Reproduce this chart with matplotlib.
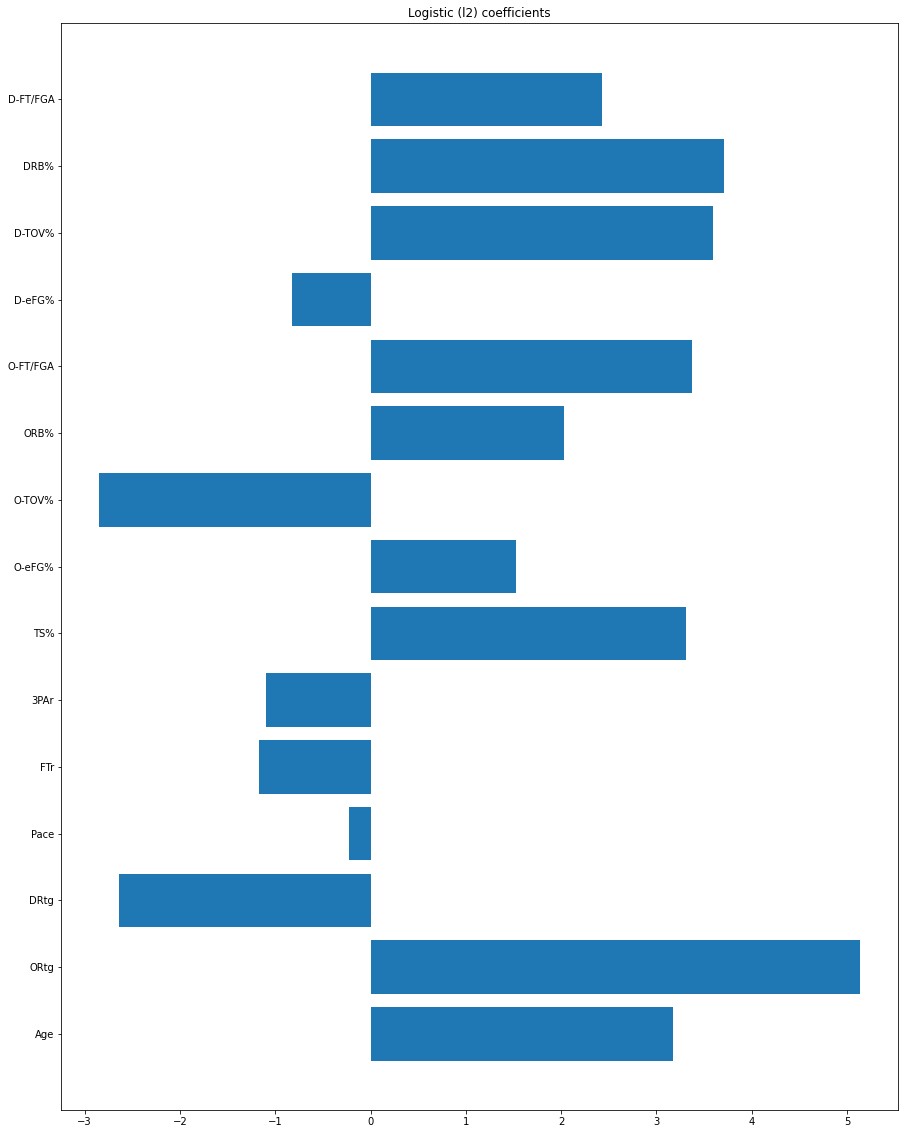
import matplotlib
matplotlib.use("Agg")
import matplotlib.pyplot as plt

features = ["Age", "ORtg", "DRtg", "Pace", "FTr", "3PAr", "TS%", "O-eFG%",
            "O-TOV%", "ORB%", "O-FT/FGA", "D-eFG%", "D-TOV%", "DRB%", "D-FT/FGA"]
coefs = [3.17, 5.14, -2.636, -0.231, -1.166, -1.092, 3.308, 1.523,
         -2.846, 2.027, 3.371, -0.82, 3.591, 3.707, 2.426]

fig = plt.figure(figsize=(905 / 72, 1134 / 72), dpi=72)
ax = fig.add_axes([61.3 / 905, 24 / 1134, (898.3 - 61.3) / 905, (1110 - 23.3) / 1134])
ax.barh(features, coefs, color="#1f77b4")
ax.set_title("Logistic (l2) coefficients", fontsize=12)
ax.tick_params(labelsize=10)
fig.savefig("out.png", dpi=72)
